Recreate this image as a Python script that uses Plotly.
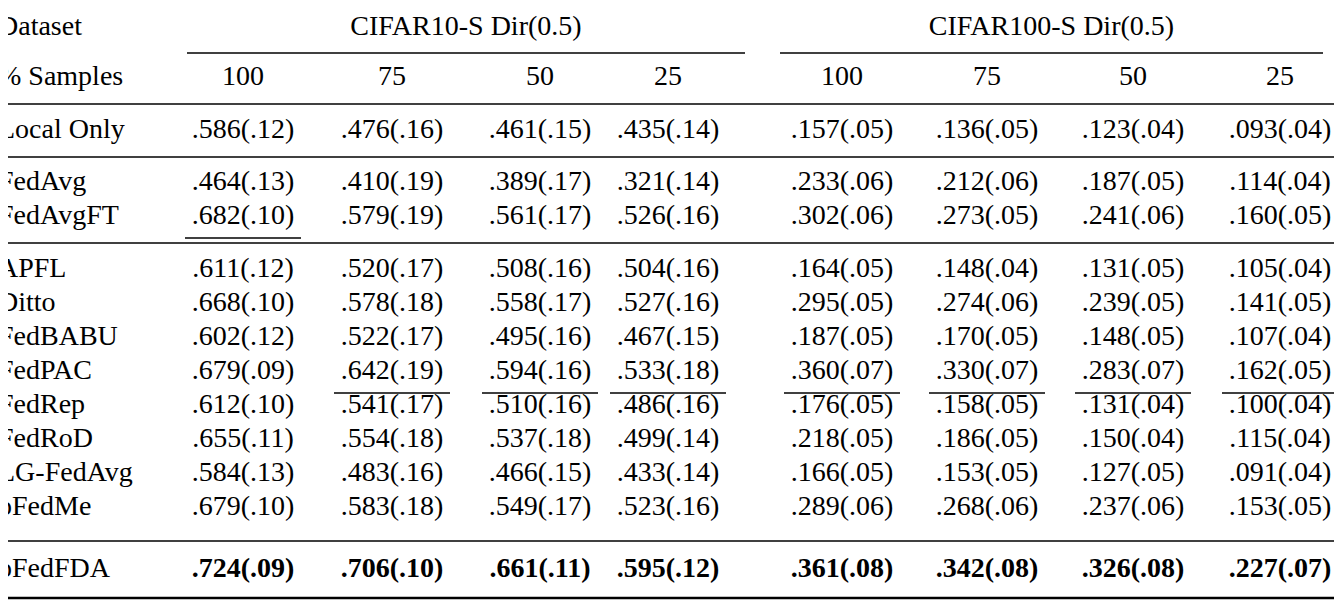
import plotly.graph_objects as go

methods = ["Local Only", "FedAvg", "FedAvgFT", "APFL", "Ditto", "FedBABU", "FedPAC",
           "FedRep", "FedRoD", "LG-FedAvg", "pFedMe", "pFedFDA"]
samples = ["100", "75", "50", "25", "100", "75", "50", "25"]
groups = ["CIFAR10-S Dir(0.5)", "CIFAR100-S Dir(0.5)"]
values = [
    [".586(.12)", ".476(.16)", ".461(.15)", ".435(.14)", ".157(.05)", ".136(.05)", ".123(.04)", ".093(.04)"],
    [".464(.13)", ".410(.19)", ".389(.17)", ".321(.14)", ".233(.06)", ".212(.06)", ".187(.05)", ".114(.04)"],
    [".682(.10)", ".579(.19)", ".561(.17)", ".526(.16)", ".302(.06)", ".273(.05)", ".241(.06)", ".160(.05)"],
    [".611(.12)", ".520(.17)", ".508(.16)", ".504(.16)", ".164(.05)", ".148(.04)", ".131(.05)", ".105(.04)"],
    [".668(.10)", ".578(.18)", ".558(.17)", ".527(.16)", ".295(.05)", ".274(.06)", ".239(.05)", ".141(.05)"],
    [".602(.12)", ".522(.17)", ".495(.16)", ".467(.15)", ".187(.05)", ".170(.05)", ".148(.05)", ".107(.04)"],
    [".679(.09)", ".642(.19)", ".594(.16)", ".533(.18)", ".360(.07)", ".330(.07)", ".283(.07)", ".162(.05)"],
    [".612(.10)", ".541(.17)", ".510(.16)", ".486(.16)", ".176(.05)", ".158(.05)", ".131(.04)", ".100(.04)"],
    [".655(.11)", ".554(.18)", ".537(.18)", ".499(.14)", ".218(.05)", ".186(.05)", ".150(.04)", ".115(.04)"],
    [".584(.13)", ".483(.16)", ".466(.15)", ".433(.14)", ".166(.05)", ".153(.05)", ".127(.05)", ".091(.04)"],
    [".679(.10)", ".583(.18)", ".549(.17)", ".523(.16)", ".289(.06)", ".268(.06)", ".237(.06)", ".153(.05)"],
    [".724(.09)", ".706(.10)", ".661(.11)", ".595(.12)", ".361(.08)", ".342(.08)", ".326(.08)", ".227(.07)"],
]
bold_row = 11
underlined = [(2, 0), (6, 1), (6, 2), (6, 3), (6, 4), (6, 5), (6, 6), (6, 7)]

# layout in pixels (page has an 8px body margin, so axes are offset by it)
W, H = 1342, 602
OFF = 8
col_x = [243, 392, 540, 668, 842, 987, 1133, 1280]
row_y = [131, 183, 217, 270, 304, 338, 372, 406, 440, 474, 508, 570]
head_y = [28, 78]
group_x = [(187, 745), (780, 1323)]
FONT = dict(family="Liberation Serif, Times New Roman, serif", size=28, color="black")

fig = go.Figure()

xs, ys, ts = [], [], []
for i, row in enumerate(values):
    for j, v in enumerate(row):
        xs.append(col_x[j]); ys.append(row_y[i])
        ts.append(f"<b>{v}</b>" if i == bold_row else v)
for j, s in enumerate(samples):
    xs.append(col_x[j]); ys.append(head_y[1]); ts.append(s)
for g, (a, b) in zip(groups, group_x):
    xs.append((a + b) / 2); ys.append(head_y[0]); ts.append(g)
fig.add_trace(go.Scatter(x=xs, y=ys, text=ts, mode="text", textposition="middle center",
                         textfont=FONT, hoverinfo="skip", showlegend=False))

labels = ["Dataset", "% Samples"] + methods
fig.add_trace(go.Scatter(x=[-2] * len(labels), y=head_y + row_y, text=labels, mode="text",
                         textposition="middle right", textfont=FONT,
                         hoverinfo="skip", showlegend=False))

def hline(y, x0=0, x1=W, w=1.3):
    fig.add_shape(type="line", x0=x0, x1=x1, y0=y, y1=y, line=dict(color="black", width=w))

hline(2, w=2.5)
hline(598, w=2.5)
for y in [104, 157, 243, 541]:
    hline(y)
for a, b in group_x:
    hline(53, a, b)
for i, j in underlined:
    hline(row_y[i] + 21, col_x[j] - 58, col_x[j] + 58)

fig.update_layout(
    width=W, height=H, margin=dict(l=0, r=0, t=0, b=0),
    plot_bgcolor="white", paper_bgcolor="white",
    xaxis=dict(range=[OFF, W + OFF], visible=False, fixedrange=True),
    yaxis=dict(range=[H + OFF, OFF], visible=False, fixedrange=True),
)
fig.write_html("out.html")
